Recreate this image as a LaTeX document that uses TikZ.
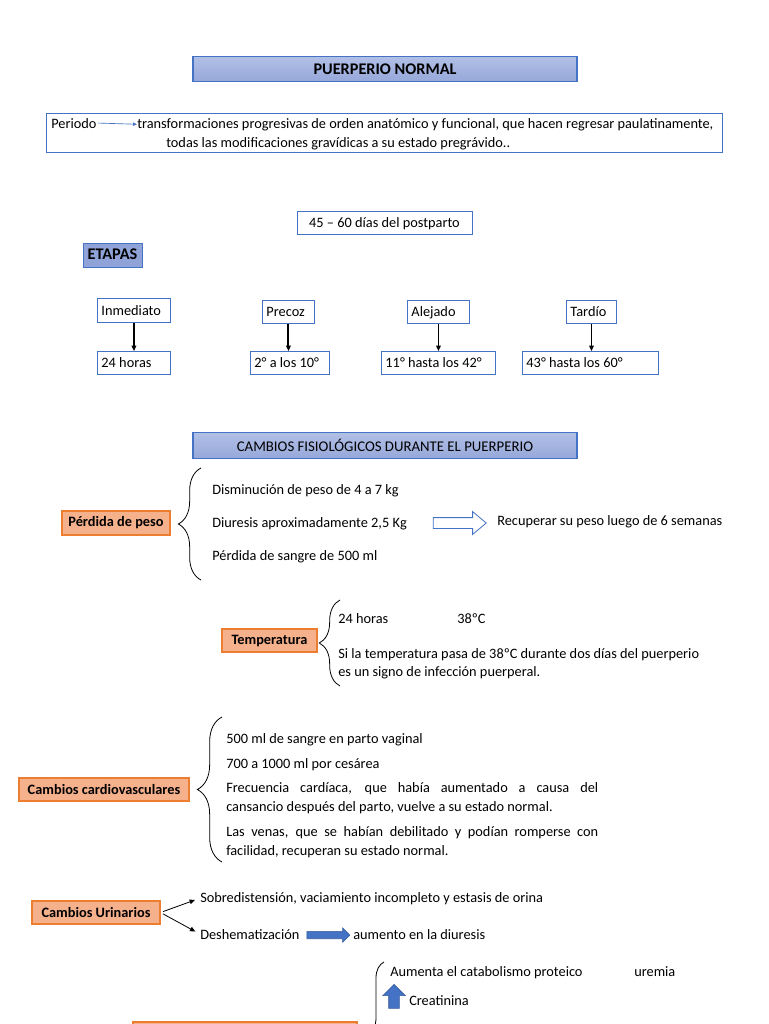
\documentclass[tikz,border=0pt]{standalone}
\usepackage{fontspec}
\setmainfont{Carlito}
\usepackage{xcolor}
\usetikzlibrary{positioning,arrows.meta,shapes.arrows,decorations.pathreplacing}

\definecolor{azul}{HTML}{4472C4}
\definecolor{azularriba}{HTML}{B2C0E6}
\definecolor{azulabajo}{HTML}{96A8DA}
\definecolor{azulfondo}{HTML}{8FA3D8}
\definecolor{naranja}{HTML}{ED7D31}
\definecolor{salmon}{HTML}{F5B08C}

\newcommand{\letra}{\fontsize{10.75pt}{14.5pt}\selectfont}
\newcommand{\letragrande}{\fontsize{12.2pt}{14.5pt}\selectfont}

\tikzset{
  every node/.style={font=\letra},
  caja/.style={draw=azul, line width=0.7pt, fill=white, inner xsep=3pt, inner ysep=0pt, minimum height=17.5pt,
               align=flush left, text height=7pt, text depth=0pt},
  titulo/.style={draw=azul, line width=0.8pt, top color=azularriba, bottom color=azulabajo, minimum width=288pt, minimum height=19pt},
  tema/.style={draw=naranja, line width=0.8pt, fill=salmon, font=\letra\bfseries, inner sep=0pt, minimum height=17.5pt},
  texto/.style={anchor=base west, inner sep=0pt},
  llave/.style={decorate, decoration={brace, amplitude=#1}, line width=0.6pt},
  flecha/.style={-{Triangle[length=4pt,width=3.5pt]}},
}

\begin{document}
\begin{tikzpicture}[x=0.75pt, y=-0.75pt]

    \clip (0,0) rectangle (768,1024);
    \fill[white] (0,0) rectangle (768,1024);

    % titulo y definicion
    \node[titulo, font=\letragrande\bfseries] (titulo) at (385,69) {PUERPERIO NORMAL};
    \node[caja, minimum width=507pt, minimum height=29.25pt, text height=0pt] (definicion) at (384,132.5) {};
    \node[texto] (periodo) at (51,128) {Periodo};
    \node[texto] (transf) at (137,128) {transformaciones progresivas de orden anatómico y funcional, que hacen regresar paulatinamente,};
    \node[texto] (transf2) at (166,147) {todas las modificaciones gravídicas a su estado pregrávido..};
    \draw[flecha, azul, line width=0.5pt, -{Triangle[length=3pt,width=2.5pt]}]
        (periodo.east) ++(1pt,0) -- (transf.west);

    % etapas
    \node[caja, align=flush center, text width=125.25pt, minimum height=17.25pt] (dias) at (384.5,222.5) {45 – 60 días del postparto};
    \node[caja, fill=azulfondo, align=flush center, text width=38.25pt, minimum height=18pt, font=\letragrande\bfseries] (etapas) at (112.5,255) {ETAPAS};

    \node[caja, text width=48.75pt, minimum height=18pt, anchor=north west] (inmediato) at (97,298) {Inmediato};
    \node[caja, text width=33pt, anchor=north west] (precoz) at (262,299.5) {Precoz};
    \node[caja, text width=40.5pt, anchor=north west] (alejado) at (407,299.5) {Alejado};
    \node[caja, text width=31.5pt, anchor=north west] (tardio) at (566,299.5) {Tardío};

    \node[caja, text width=48.75pt, anchor=north west] (horas) at (97,351) {24 horas};
    \node[caja, text width=53.25pt, anchor=north west] (diez) at (250,351) {2° a los 10°};
    \node[caja, text width=79.5pt, anchor=north west] (cuarenta) at (381,351) {11° hasta los 42°};
    \node[caja, text width=96pt, anchor=north west] (sesenta) at (522,351) {43° hasta los 60°};

    \draw[flecha, line width=1.5pt] (inmediato.south) -- (inmediato.south |- horas.north);
    \draw[flecha, line width=1.5pt] (precoz.south) -- (precoz.south |- diez.north);
    \draw[flecha, line width=0.7pt] (alejado.south) -- (alejado.south |- cuarenta.north);
    \draw[flecha, line width=0.7pt] (tardio.south) -- (tardio.south |- sesenta.north);

    % cambios fisiologicos
    \node[titulo, font=\fontsize{11.1pt}{14.5pt}\selectfont] (cambios) at (385,445.5) {CAMBIOS FISIOLÓGICOS DURANTE EL PUERPERIO};

    % perdida de peso
    \node[tema, minimum width=81pt, minimum height=18pt] (perdida) at (116,523) {Pérdida de peso};
    \coordinate (p1) at (201,468);
    \coordinate (p2) at (201,580);
    \draw[llave=17pt] (p2) -- (p1);
    \node[texto] (peso) at (212,494) {Disminución de peso de 4 a 7 kg};
    \node[texto] (diuresis) at (212,527) {Diuresis aproximadamente 2,5 Kg};
    \node[texto] (sangre) at (212,560) {Pérdida de sangre de 500 ml};
    \node[single arrow, draw=azul, line width=0.6pt, fill=white, inner sep=0pt, inner ysep=3.75pt,
          single arrow head extend=4.5pt, single arrow tip angle=80, minimum height=39.75pt] (hueca) at (456.5,523) {};
    \node[texto] (recuperar) at (497,525) {Recuperar su peso luego de 6 semanas};

    % temperatura
    \node[tema, minimum width=71.25pt, minimum height=17.25pt] (temperatura) at (269.5,640.5) {Temperatura};
    \coordinate (t1) at (340,600);
    \coordinate (t2) at (340,686);
    \draw[llave=15.5pt] (t2) -- (t1);
    \node[texto] (horas2) at (338,623) {24 horas};
    \node[texto] (grados) at (457,623) {38ºC};
    \node[texto] (pasa) at (338,658) {Si la temperatura pasa de 38ºC durante dos días del puerperio};
    \node[texto] (signo) at (338,676) {es un signo de infección puerperal.};

    % cardiovasculares
    \node[tema, minimum width=127.5pt, minimum height=17.25pt] (cardio) at (104,789.5) {Cambios cardiovasculares};
    \coordinate (c1) at (222,717);
    \coordinate (c2) at (222,862);
    \draw[llave=18.5pt] (c2) -- (c1);
    \node[texto] (vaginal) at (226,743) {500 ml de sangre en parto vaginal};
    \node[texto] (cesarea) at (226,768) {700 a 1000 ml por cesárea};
    \node[texto, text width=279pt, align=justify] (frecuencia) at (226,792)
        {Frecuencia cardíaca, que había aumentado a causa del\linebreak cansancio después del parto, vuelve a su estado normal.};
    \node[texto, text width=279pt, align=justify] (venas) at (226,836)
        {Las venas, que se habían debilitado y podían romperse con\linebreak facilidad, recuperan su estado normal.};

    % urinarios
    \node[tema, minimum width=96pt, minimum height=17.25pt] (urinarios) at (96,912.5) {Cambios Urinarios};
    \node[texto] (sobre) at (200,902) {Sobredistensión, vaciamiento incompleto y estasis de orina};
    \node[texto] (desh) at (200,939) {Deshematización};
    \node[single arrow, draw=azul!80!black, line width=0.4pt, fill=azul, inner sep=0pt, inner ysep=2.6pt,
          single arrow head extend=2.6pt, minimum height=32.25pt] (llena) at (326.5,935) {};
    \node[texto] (aumento) at (353,939) {aumento en la diuresis};
    \draw[flecha, line width=0.6pt, shorten <=2pt, shorten >=4pt] (urinarios.east) -- (sobre.west);
    \draw[flecha, line width=0.6pt, shorten <=2pt, shorten >=4pt] (urinarios.east) -- (desh.west);

    % siguiente bloque
    \node[tema, minimum width=168pt, minimum height=18pt] (renales) at (245,1034) {};
    \coordinate (r1) at (384,962);
    \coordinate (r2) at (384,1106);
    \draw[llave=12pt] (r2) -- (r1);
    \node[texto] (catabolismo) at (390,976) {Aumenta el catabolismo proteico};
    \node[texto] (uremia) at (634,976) {uremia};
    \node[single arrow, draw=azul!80!black, line width=0.4pt, fill=azul, inner sep=0pt, inner ysep=3.75pt,
          single arrow head extend=4.5pt, minimum height=18pt, rotate=90] (sube) at (394,999) {};
    \node[texto] (creatinina) at (409,1005) {Creatinina};

\end{tikzpicture}
\end{document}
